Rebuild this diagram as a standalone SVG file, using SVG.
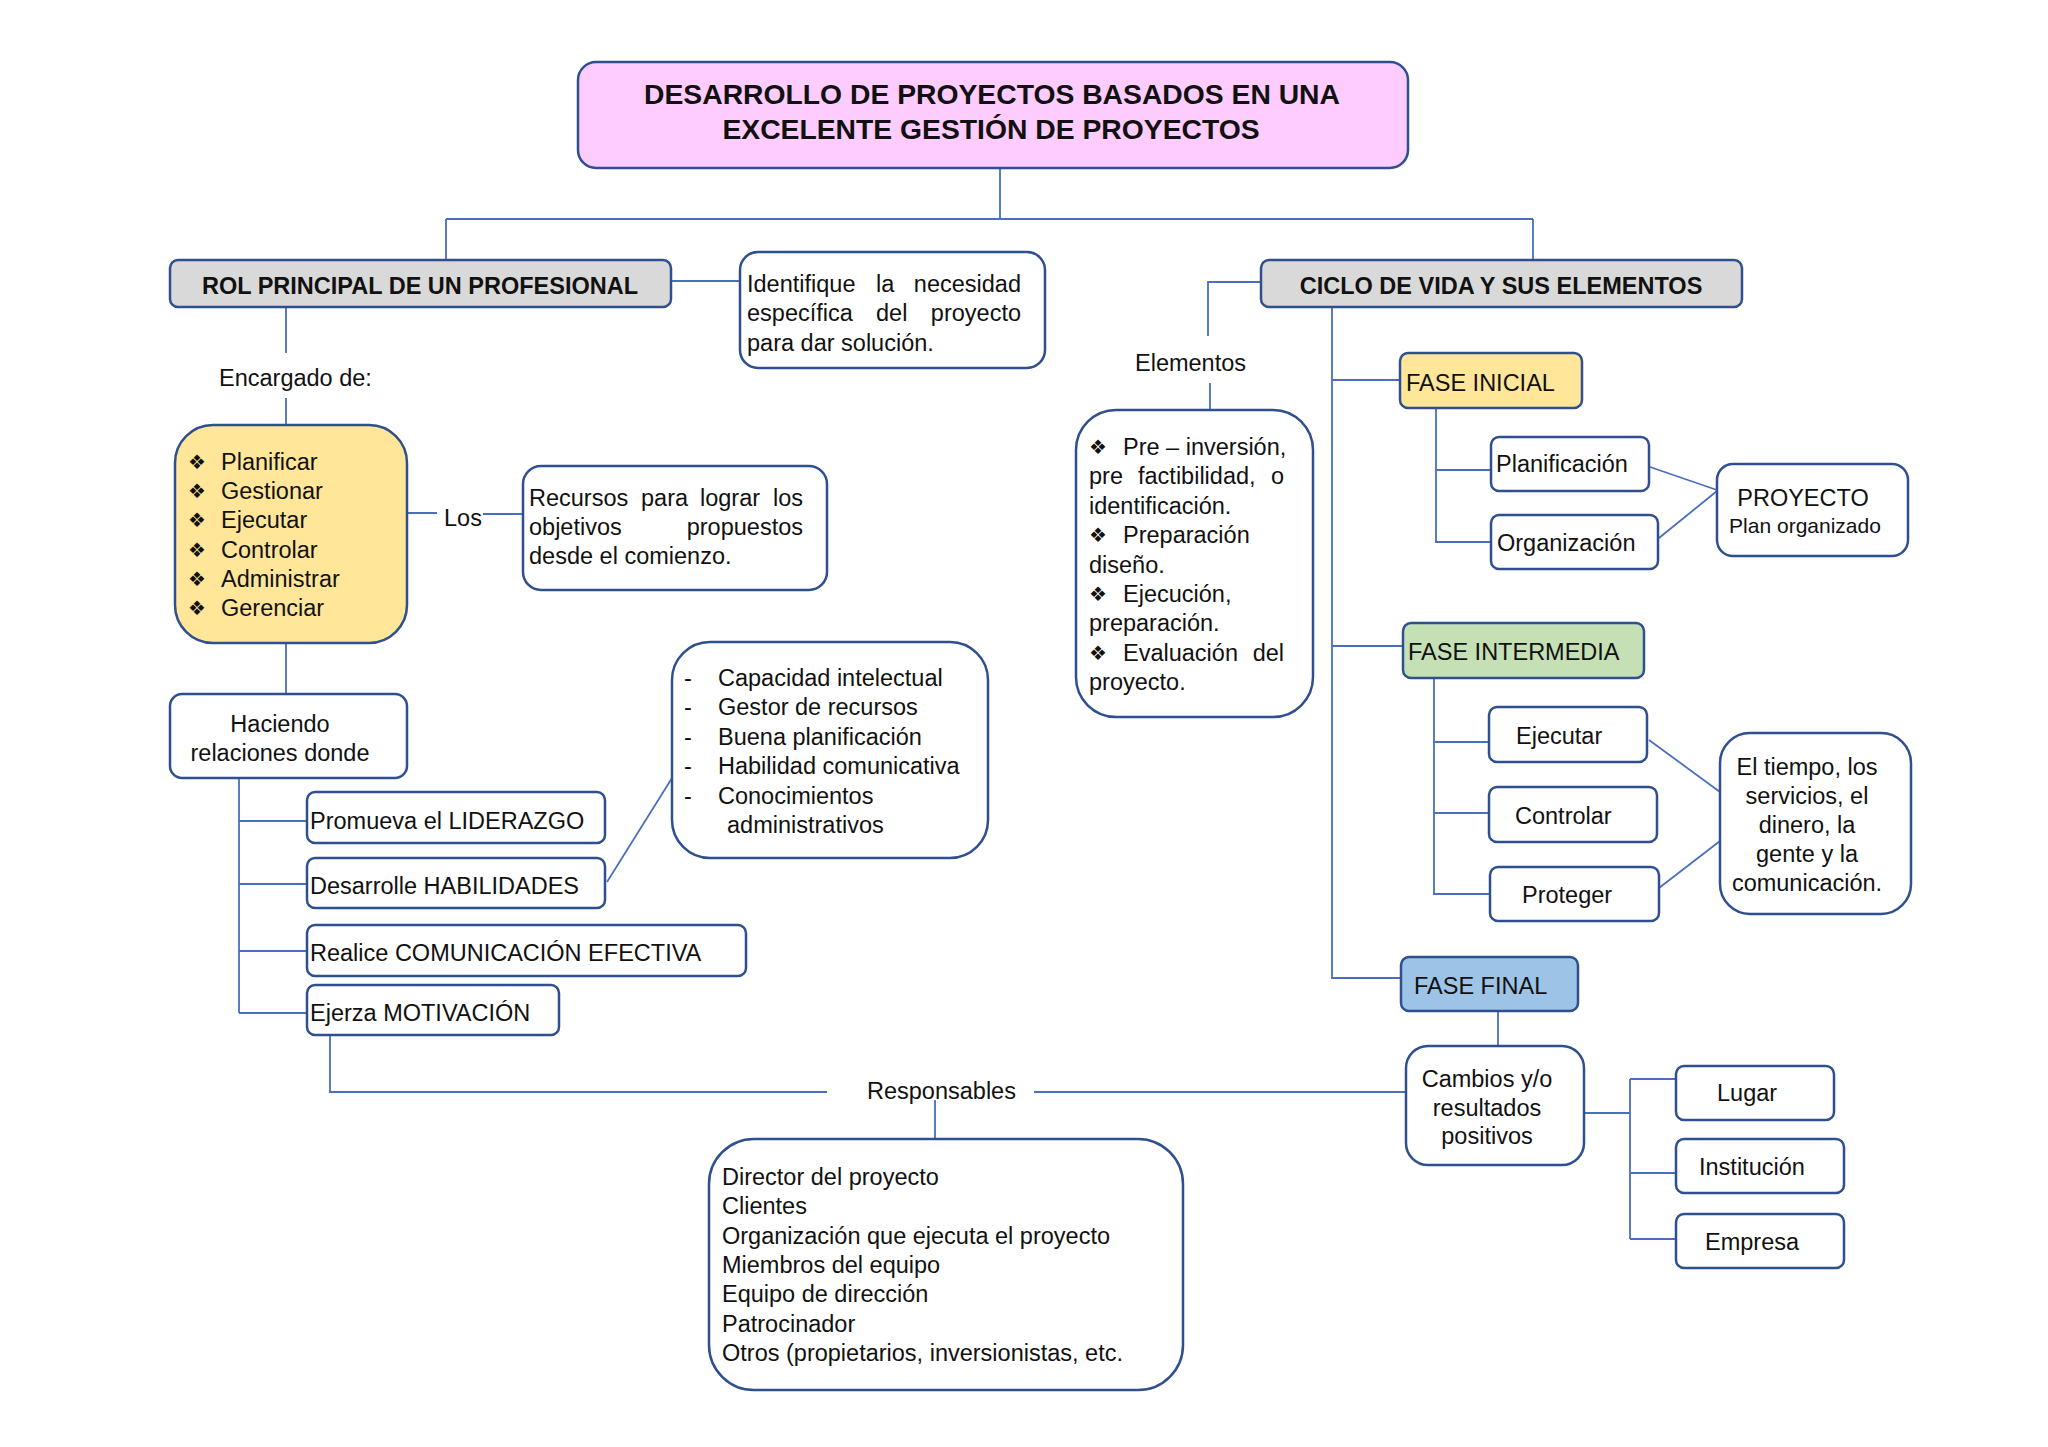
<svg xmlns="http://www.w3.org/2000/svg" width="2048" height="1447" viewBox="0 0 2048 1447">
<style>
.bx{stroke:#2f4f8f;stroke-width:2.5;fill:#ffffff}
.ln{stroke:#4a6fbf;stroke-width:1.8;fill:none}
text{font-family:'Liberation Sans',Arial,'DejaVu Sans',sans-serif;font-size:23.5px;fill:#111}
.b{font-weight:bold}
.c{text-anchor:middle}
.bu{font-family:'DejaVu Sans',sans-serif;font-size:20px}
</style>
<rect width="2048" height="1447" fill="#ffffff"/>
<g id="connectors">
<path class="ln" d="M1000 168V219M446 219H1533M446 219V260M1533 219V260"/>
<path class="ln" d="M671 281H740"/>
<path class="ln" d="M286 307V353M286 398V425"/>
<path class="ln" d="M407 513H437M483 514H523"/>
<path class="ln" d="M286 643V694"/>
<path class="ln" d="M239 778V1013M239 821H307M239 884H307M239 951H307M239 1013H307"/>
<path class="ln" d="M607 882L672 778"/>
<path class="ln" d="M330 1036V1092H827"/>
<path class="ln" d="M1034 1092H1406"/>
<path class="ln" d="M935 1100V1139"/>
<path class="ln" d="M1261 282H1208V336M1210 383V410"/>
<path class="ln" d="M1332 307V978H1401M1332 380H1400M1332 646H1403"/>
<path class="ln" d="M1436 408V542H1491M1436 470H1491"/>
<path class="ln" d="M1650 467L1717 490M1659 538L1717 491"/>
<path class="ln" d="M1434 678V894H1490M1434 742H1489M1434 813H1489"/>
<path class="ln" d="M1649 740L1720 792M1659 888L1720 841"/>
<path class="ln" d="M1498 1011V1046"/>
<path class="ln" d="M1584 1113H1630M1630 1079V1239M1630 1079H1676M1630 1173H1676M1630 1239H1676"/>
</g>
<g id="title">
<rect class="bx" x="578" y="62" width="830" height="106" rx="18" style="fill:#ffccff"/>
<text class="b c" x="992" y="104" style="font-size:28.3px">DESARROLLO DE PROYECTOS BASADOS EN UNA</text>
<text class="b c" x="991" y="139" style="font-size:28.3px">EXCELENTE GESTIÓN DE PROYECTOS</text>
</g>
<g id="rol">
<rect class="bx" x="170" y="260" width="501" height="47" rx="8" style="fill:#d9d9d9"/>
<text class="b c" x="420" y="294">ROL PRINCIPAL DE UN PROFESIONAL</text>
</g>
<g id="identifique">
<rect class="bx" x="740" y="252" width="305" height="116" rx="18"/>
<text y="292"><tspan x="747">Identifique</tspan><tspan x="876">la</tspan><tspan x="1021" text-anchor="end">necesidad</tspan></text>
<text y="321"><tspan x="747">específica</tspan><tspan x="876">del</tspan><tspan x="1021" text-anchor="end">proyecto</tspan></text>
<text x="747" y="351">para dar solución.</text>
</g>
<g id="ciclo">
<rect class="bx" x="1261" y="260" width="481" height="47" rx="8" style="fill:#d9d9d9"/>
<text class="b c" x="1501" y="294">CICLO DE VIDA Y SUS ELEMENTOS</text>
</g>
<g id="encargado"><text x="219" y="386">Encargado de:</text></g>
<g id="tareas">
<rect class="bx" x="175" y="425" width="232" height="218" rx="38" style="fill:#ffe699"/>
<text class="bu" x="188" y="469">❖</text><text x="221" y="470">Planificar</text>
<text class="bu" x="188" y="498">❖</text><text x="221" y="499">Gestionar</text>
<text class="bu" x="188" y="527">❖</text><text x="221" y="528">Ejecutar</text>
<text class="bu" x="188" y="557">❖</text><text x="221" y="558">Controlar</text>
<text class="bu" x="188" y="586">❖</text><text x="221" y="587">Administrar</text>
<text class="bu" x="188" y="615">❖</text><text x="221" y="616">Gerenciar</text>
</g>
<g id="los"><text x="444" y="526">Los</text></g>
<g id="recursos">
<rect class="bx" x="523" y="466" width="304" height="124" rx="18"/>
<text y="506"><tspan x="529">Recursos</tspan><tspan x="641">para</tspan><tspan x="700">lograr</tspan><tspan x="803" text-anchor="end">los</tspan></text>
<text y="535"><tspan x="529">objetivos</tspan><tspan x="803" text-anchor="end">propuestos</tspan></text>
<text x="529" y="564">desde el comienzo.</text>
</g>
<g id="haciendo">
<rect class="bx" x="170" y="694" width="237" height="84" rx="12"/>
<text class="c" x="280" y="732">Haciendo</text>
<text class="c" x="280" y="761">relaciones donde</text>
</g>
<g id="promueva">
<rect class="bx" x="307" y="792" width="298" height="51" rx="8"/>
<text x="310" y="829">Promueva el LIDERAZGO</text>
</g>
<g id="desarrolle">
<rect class="bx" x="307" y="858" width="298" height="50" rx="8"/>
<text x="310" y="894">Desarrolle HABILIDADES</text>
</g>
<g id="realice">
<rect class="bx" x="307" y="925" width="439" height="51" rx="8"/>
<text x="310" y="961">Realice COMUNICACIÓN EFECTIVA</text>
</g>
<g id="ejerza">
<rect class="bx" x="307" y="985" width="252" height="50" rx="8"/>
<text x="310" y="1021">Ejerza MOTIVACIÓN</text>
</g>
<g id="capacidad">
<rect class="bx" x="672" y="642" width="316" height="216" rx="38"/>
<text x="684" y="686">-</text><text x="718" y="686">Capacidad intelectual</text>
<text x="684" y="715">-</text><text x="718" y="715">Gestor de recursos</text>
<text x="684" y="745">-</text><text x="718" y="745">Buena planificación</text>
<text x="684" y="774">-</text><text x="718" y="774">Habilidad comunicativa</text>
<text x="684" y="804">-</text><text x="718" y="804">Conocimientos</text>
<text x="727" y="833">administrativos</text>
</g>
<g id="responsables"><text x="867" y="1099">Responsables</text></g>
<g id="director">
<rect class="bx" x="709" y="1139" width="474" height="251" rx="45"/>
<text x="722" y="1185">Director del proyecto</text>
<text x="722" y="1214">Clientes</text>
<text x="722" y="1244">Organización que ejecuta el proyecto</text>
<text x="722" y="1273">Miembros del equipo</text>
<text x="722" y="1302">Equipo de dirección</text>
<text x="722" y="1332">Patrocinador</text>
<text x="722" y="1361">Otros (propietarios, inversionistas, etc.</text>
</g>
<g id="elementos-label"><text x="1135" y="371">Elementos</text></g>
<g id="elementos">
<rect class="bx" x="1076" y="410" width="237" height="307" rx="40"/>
<text class="bu" x="1089" y="454">❖</text><text x="1123" y="455">Pre – inversión,</text>
<text y="484"><tspan x="1089">pre</tspan><tspan x="1138">factibilidad,</tspan><tspan x="1284" text-anchor="end">o</tspan></text>
<text x="1089" y="514">identificación.</text>
<text class="bu" x="1089" y="542">❖</text><text x="1123" y="543">Preparación</text>
<text x="1089" y="573">diseño.</text>
<text class="bu" x="1089" y="601">❖</text><text x="1123" y="602">Ejecución,</text>
<text x="1089" y="631">preparación.</text>
<text class="bu" x="1089" y="660">❖</text><text y="661"><tspan x="1123">Evaluación</tspan><tspan x="1284" text-anchor="end">del</tspan></text>
<text x="1089" y="690">proyecto.</text>
</g>
<g id="fase-inicial">
<rect class="bx" x="1400" y="353" width="182" height="55" rx="8" style="fill:#ffe699"/>
<text x="1406" y="391">FASE INICIAL</text>
</g>
<g id="planificacion">
<rect class="bx" x="1491" y="437" width="158" height="54" rx="8"/>
<text x="1496" y="472">Planificación</text>
</g>
<g id="organizacion">
<rect class="bx" x="1491" y="515" width="167" height="54" rx="8"/>
<text x="1497" y="551">Organización</text>
</g>
<g id="proyecto">
<rect class="bx" x="1717" y="464" width="191" height="92" rx="16"/>
<text class="c" x="1803" y="506">PROYECTO</text>
<text class="c" x="1805" y="533" style="font-size:21px">Plan organizado</text>
</g>
<g id="fase-intermedia">
<rect class="bx" x="1403" y="623" width="241" height="55" rx="8" style="fill:#c5e0b4"/>
<text x="1408" y="660">FASE INTERMEDIA</text>
</g>
<g id="ejecutar">
<rect class="bx" x="1489" y="707" width="158" height="55" rx="8"/>
<text x="1516" y="744">Ejecutar</text>
</g>
<g id="controlar">
<rect class="bx" x="1489" y="787" width="168" height="55" rx="8"/>
<text x="1515" y="824">Controlar</text>
</g>
<g id="proteger">
<rect class="bx" x="1490" y="867" width="169" height="54" rx="8"/>
<text x="1522" y="903">Proteger</text>
</g>
<g id="el-tiempo">
<rect class="bx" x="1720" y="733" width="191" height="181" rx="30"/>
<text class="c" x="1807" y="775">El tiempo, los</text>
<text class="c" x="1807" y="804">servicios, el</text>
<text class="c" x="1807" y="833">dinero, la</text>
<text class="c" x="1807" y="862">gente y la</text>
<text class="c" x="1807" y="891">comunicación.</text>
</g>
<g id="fase-final">
<rect class="bx" x="1401" y="957" width="177" height="54" rx="8" style="fill:#9dc3e6"/>
<text x="1414" y="994">FASE FINAL</text>
</g>
<g id="cambios">
<rect class="bx" x="1406" y="1046" width="178" height="119" rx="22"/>
<text class="c" x="1487" y="1087">Cambios y/o</text>
<text class="c" x="1487" y="1116">resultados</text>
<text class="c" x="1487" y="1144">positivos</text>
</g>
<g id="lugar">
<rect class="bx" x="1676" y="1066" width="158" height="54" rx="8"/>
<text x="1717" y="1101">Lugar</text>
</g>
<g id="institucion">
<rect class="bx" x="1676" y="1139" width="168" height="54" rx="8"/>
<text x="1699" y="1175">Institución</text>
</g>
<g id="empresa">
<rect class="bx" x="1676" y="1214" width="168" height="54" rx="8"/>
<text x="1705" y="1250">Empresa</text>
</g>
</svg>
